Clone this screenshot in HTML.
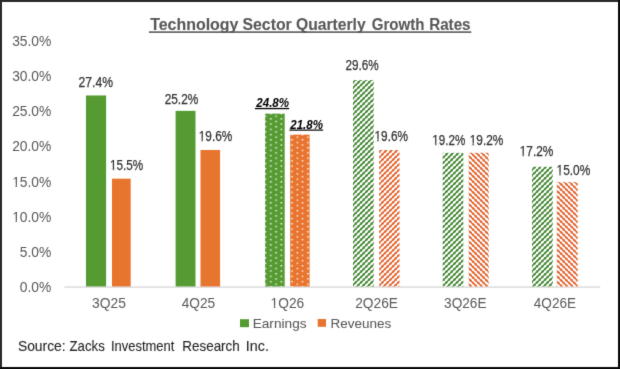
<!DOCTYPE html>
<html><head><meta charset="utf-8"><style>
html,body{margin:0;padding:0;background:#fff;}
#c{position:relative;width:620px;height:369px;overflow:hidden;background:#fff;}
svg{position:absolute;left:0;top:0;}
text{font-family:"Liberation Sans",sans-serif;}
</style></head><body><div id="c">
<svg width="620" height="369" viewBox="0 0 620 369">
<defs>
<filter id="bl" x="0" y="0" width="620" height="369" filterUnits="userSpaceOnUse"><feConvolveMatrix order="3" kernelMatrix="0.0100 0.0800 0.0100 0.0800 0.6400 0.0800 0.0100 0.0800 0.0100" edgeMode="duplicate"/></filter>
<pattern id="dotG" patternUnits="userSpaceOnUse" width="10.6" height="5.25" x="-0.2" y="0">
<rect width="10.6" height="5.25" fill="#559b30"/>
<rect x="0" y="0" width="1.4" height="1.4" fill="#f6fcf2"/>
<rect x="5.3" y="2.625" width="1.4" height="1.4" fill="#f6fcf2"/>
</pattern>
<pattern id="dotO" patternUnits="userSpaceOnUse" width="10.6" height="5.25" x="-0.2" y="0">
<rect width="10.6" height="5.25" fill="#e8752f"/>
<rect x="0" y="0" width="1.4" height="1.4" fill="#fff6ea"/>
<rect x="5.3" y="2.625" width="1.4" height="1.4" fill="#fff6ea"/>
</pattern>
<pattern id="hatG" patternUnits="userSpaceOnUse" width="16" height="16" x="0" y="0">
<rect width="16" height="16" fill="#fff"/>
<path d="M10 0h1v1h-1zM3 1h1v1h-1zM7 3h1v1h-1zM8 3h1v1h-1zM9 6h1v1h-1zM10 6h1v1h-1zM13 7h1v1h-1zM2 8h1v1h-1zM11 9h1v1h-1zM0 11h1v1h-1zM15 11h1v1h-1zM1 14h1v1h-1zM2 14h1v1h-1zM5 15h1v1h-1z" fill="#ecf4e9"/>
<path d="M1 0h1v1h-1zM10 1h1v1h-1zM3 3h1v1h-1zM10 5h1v1h-1zM12 5h1v1h-1zM5 6h1v1h-1zM15 7h1v1h-1zM9 8h1v1h-1zM2 9h1v1h-1zM11 11h1v1h-1zM2 13h1v1h-1zM4 13h1v1h-1zM13 14h1v1h-1zM7 15h1v1h-1z" fill="#d9e8d3"/>
<path d="M15 0h1v1h-1zM8 1h1v1h-1zM12 3h1v1h-1zM14 6h1v1h-1zM7 8h1v1h-1zM0 9h1v1h-1zM4 11h1v1h-1zM6 14h1v1h-1z" fill="#c5dcbe"/>
<path d="M2 2h1v1h-1zM15 2h1v1h-1zM14 3h1v1h-1zM2 4h1v1h-1zM5 4h1v1h-1zM7 10h1v1h-1zM10 10h1v1h-1zM6 11h1v1h-1zM10 12h1v1h-1zM13 12h1v1h-1z" fill="#b2d1a8"/>
<path d="M12 0h1v1h-1zM5 1h1v1h-1zM1 3h1v1h-1zM0 6h1v1h-1zM3 6h1v1h-1zM4 8h1v1h-1zM13 9h1v1h-1zM9 11h1v1h-1zM8 14h1v1h-1zM11 14h1v1h-1z" fill="#9fc692"/>
<path d="M7 5h1v1h-1zM15 5h1v1h-1zM2 7h1v1h-1zM10 7h1v1h-1zM7 13h1v1h-1zM15 13h1v1h-1zM2 15h1v1h-1zM10 15h1v1h-1z" fill="#8cba7c"/>
<path d="M4 0h1v1h-1zM13 1h1v1h-1zM9 3h1v1h-1zM8 6h1v1h-1zM11 6h1v1h-1zM12 8h1v1h-1zM5 9h1v1h-1zM1 11h1v1h-1zM0 14h1v1h-1zM3 14h1v1h-1z" fill="#79ae66"/>
<path d="M7 2h1v1h-1zM10 2h1v1h-1zM6 3h1v1h-1zM10 4h1v1h-1zM13 4h1v1h-1zM2 10h1v1h-1zM15 10h1v1h-1zM14 11h1v1h-1zM2 12h1v1h-1zM5 12h1v1h-1z" fill="#65a351"/>
<path d="M7 0h1v1h-1zM0 1h1v1h-1zM4 3h1v1h-1zM6 6h1v1h-1zM15 8h1v1h-1zM8 9h1v1h-1zM12 11h1v1h-1zM14 14h1v1h-1z" fill="#52983b"/>
<path d="M2 0h1v1h-1zM3 0h1v1h-1zM8 0h1v1h-1zM9 0h1v1h-1zM13 0h1v1h-1zM14 0h1v1h-1zM1 1h1v1h-1zM2 1h1v1h-1zM6 1h1v1h-1zM7 1h1v1h-1zM11 1h1v1h-1zM12 1h1v1h-1zM0 2h1v1h-1zM1 2h1v1h-1zM5 2h1v1h-1zM6 2h1v1h-1zM11 2h1v1h-1zM12 2h1v1h-1zM0 3h1v1h-1zM5 3h1v1h-1zM10 3h1v1h-1zM11 3h1v1h-1zM15 3h1v1h-1zM3 4h1v1h-1zM4 4h1v1h-1zM8 4h1v1h-1zM9 4h1v1h-1zM14 4h1v1h-1zM15 4h1v1h-1zM2 5h1v1h-1zM3 5h1v1h-1zM4 5h1v1h-1zM8 5h1v1h-1zM9 5h1v1h-1zM13 5h1v1h-1zM14 5h1v1h-1zM1 6h1v1h-1zM2 6h1v1h-1zM7 6h1v1h-1zM12 6h1v1h-1zM13 6h1v1h-1zM0 7h1v1h-1zM1 7h1v1h-1zM5 7h1v1h-1zM6 7h1v1h-1zM7 7h1v1h-1zM11 7h1v1h-1zM12 7h1v1h-1zM0 8h1v1h-1zM1 8h1v1h-1zM5 8h1v1h-1zM6 8h1v1h-1zM10 8h1v1h-1zM11 8h1v1h-1zM3 9h1v1h-1zM4 9h1v1h-1zM9 9h1v1h-1zM10 9h1v1h-1zM14 9h1v1h-1zM15 9h1v1h-1zM3 10h1v1h-1zM4 10h1v1h-1zM8 10h1v1h-1zM9 10h1v1h-1zM13 10h1v1h-1zM14 10h1v1h-1zM2 11h1v1h-1zM3 11h1v1h-1zM7 11h1v1h-1zM8 11h1v1h-1zM13 11h1v1h-1zM0 12h1v1h-1zM1 12h1v1h-1zM6 12h1v1h-1zM7 12h1v1h-1zM11 12h1v1h-1zM12 12h1v1h-1zM0 13h1v1h-1zM1 13h1v1h-1zM5 13h1v1h-1zM6 13h1v1h-1zM10 13h1v1h-1zM11 13h1v1h-1zM12 13h1v1h-1zM4 14h1v1h-1zM5 14h1v1h-1zM9 14h1v1h-1zM10 14h1v1h-1zM15 14h1v1h-1zM3 15h1v1h-1zM4 15h1v1h-1zM8 15h1v1h-1zM9 15h1v1h-1zM13 15h1v1h-1zM14 15h1v1h-1zM15 15h1v1h-1z" fill="#3f8c25"/>
</pattern>
<pattern id="hatOu" patternUnits="userSpaceOnUse" width="16" height="16" x="0" y="0">
<rect width="16" height="16" fill="#fff"/>
<path d="M10 0h1v1h-1zM3 1h1v1h-1zM7 3h1v1h-1zM8 3h1v1h-1zM9 6h1v1h-1zM10 6h1v1h-1zM13 7h1v1h-1zM2 8h1v1h-1zM11 9h1v1h-1zM0 11h1v1h-1zM15 11h1v1h-1zM1 14h1v1h-1zM2 14h1v1h-1zM5 15h1v1h-1z" fill="#fcf0e8"/>
<path d="M1 0h1v1h-1zM10 1h1v1h-1zM3 3h1v1h-1zM10 5h1v1h-1zM12 5h1v1h-1zM5 6h1v1h-1zM15 7h1v1h-1zM9 8h1v1h-1zM2 9h1v1h-1zM11 11h1v1h-1zM2 13h1v1h-1zM4 13h1v1h-1zM13 14h1v1h-1zM7 15h1v1h-1z" fill="#f9e0d2"/>
<path d="M15 0h1v1h-1zM8 1h1v1h-1zM12 3h1v1h-1zM14 6h1v1h-1zM7 8h1v1h-1zM0 9h1v1h-1zM4 11h1v1h-1zM6 14h1v1h-1z" fill="#f7d1bc"/>
<path d="M2 2h1v1h-1zM15 2h1v1h-1zM14 3h1v1h-1zM2 4h1v1h-1zM5 4h1v1h-1zM7 10h1v1h-1zM10 10h1v1h-1zM6 11h1v1h-1zM10 12h1v1h-1zM13 12h1v1h-1z" fill="#f4c2a5"/>
<path d="M12 0h1v1h-1zM5 1h1v1h-1zM1 3h1v1h-1zM0 6h1v1h-1zM3 6h1v1h-1zM4 8h1v1h-1zM13 9h1v1h-1zM9 11h1v1h-1zM8 14h1v1h-1zM11 14h1v1h-1z" fill="#f1b28e"/>
<path d="M7 5h1v1h-1zM15 5h1v1h-1zM2 7h1v1h-1zM10 7h1v1h-1zM7 13h1v1h-1zM15 13h1v1h-1zM2 15h1v1h-1zM10 15h1v1h-1z" fill="#eea378"/>
<path d="M4 0h1v1h-1zM13 1h1v1h-1zM9 3h1v1h-1zM8 6h1v1h-1zM11 6h1v1h-1zM12 8h1v1h-1zM5 9h1v1h-1zM1 11h1v1h-1zM0 14h1v1h-1zM3 14h1v1h-1z" fill="#eb9462"/>
<path d="M7 2h1v1h-1zM10 2h1v1h-1zM6 3h1v1h-1zM10 4h1v1h-1zM13 4h1v1h-1zM2 10h1v1h-1zM15 10h1v1h-1zM14 11h1v1h-1zM2 12h1v1h-1zM5 12h1v1h-1z" fill="#e9854b"/>
<path d="M7 0h1v1h-1zM0 1h1v1h-1zM4 3h1v1h-1zM6 6h1v1h-1zM15 8h1v1h-1zM8 9h1v1h-1zM12 11h1v1h-1zM14 14h1v1h-1z" fill="#e67534"/>
<path d="M2 0h1v1h-1zM3 0h1v1h-1zM8 0h1v1h-1zM9 0h1v1h-1zM13 0h1v1h-1zM14 0h1v1h-1zM1 1h1v1h-1zM2 1h1v1h-1zM6 1h1v1h-1zM7 1h1v1h-1zM11 1h1v1h-1zM12 1h1v1h-1zM0 2h1v1h-1zM1 2h1v1h-1zM5 2h1v1h-1zM6 2h1v1h-1zM11 2h1v1h-1zM12 2h1v1h-1zM0 3h1v1h-1zM5 3h1v1h-1zM10 3h1v1h-1zM11 3h1v1h-1zM15 3h1v1h-1zM3 4h1v1h-1zM4 4h1v1h-1zM8 4h1v1h-1zM9 4h1v1h-1zM14 4h1v1h-1zM15 4h1v1h-1zM2 5h1v1h-1zM3 5h1v1h-1zM4 5h1v1h-1zM8 5h1v1h-1zM9 5h1v1h-1zM13 5h1v1h-1zM14 5h1v1h-1zM1 6h1v1h-1zM2 6h1v1h-1zM7 6h1v1h-1zM12 6h1v1h-1zM13 6h1v1h-1zM0 7h1v1h-1zM1 7h1v1h-1zM5 7h1v1h-1zM6 7h1v1h-1zM7 7h1v1h-1zM11 7h1v1h-1zM12 7h1v1h-1zM0 8h1v1h-1zM1 8h1v1h-1zM5 8h1v1h-1zM6 8h1v1h-1zM10 8h1v1h-1zM11 8h1v1h-1zM3 9h1v1h-1zM4 9h1v1h-1zM9 9h1v1h-1zM10 9h1v1h-1zM14 9h1v1h-1zM15 9h1v1h-1zM3 10h1v1h-1zM4 10h1v1h-1zM8 10h1v1h-1zM9 10h1v1h-1zM13 10h1v1h-1zM14 10h1v1h-1zM2 11h1v1h-1zM3 11h1v1h-1zM7 11h1v1h-1zM8 11h1v1h-1zM13 11h1v1h-1zM0 12h1v1h-1zM1 12h1v1h-1zM6 12h1v1h-1zM7 12h1v1h-1zM11 12h1v1h-1zM12 12h1v1h-1zM0 13h1v1h-1zM1 13h1v1h-1zM5 13h1v1h-1zM6 13h1v1h-1zM10 13h1v1h-1zM11 13h1v1h-1zM12 13h1v1h-1zM4 14h1v1h-1zM5 14h1v1h-1zM9 14h1v1h-1zM10 14h1v1h-1zM15 14h1v1h-1zM3 15h1v1h-1zM4 15h1v1h-1zM8 15h1v1h-1zM9 15h1v1h-1zM13 15h1v1h-1zM14 15h1v1h-1zM15 15h1v1h-1z" fill="#e3661e"/>
</pattern>
<pattern id="hatOd" patternUnits="userSpaceOnUse" width="16" height="16" x="0" y="0">
<rect width="16" height="16" fill="#fff"/>
<path d="M5 0h1v1h-1zM1 1h1v1h-1zM2 1h1v1h-1zM0 4h1v1h-1zM15 4h1v1h-1zM11 6h1v1h-1zM2 7h1v1h-1zM13 8h1v1h-1zM9 9h1v1h-1zM10 9h1v1h-1zM7 12h1v1h-1zM8 12h1v1h-1zM3 14h1v1h-1zM10 15h1v1h-1z" fill="#fcf0e8"/>
<path d="M7 0h1v1h-1zM13 1h1v1h-1zM2 2h1v1h-1zM4 2h1v1h-1zM11 4h1v1h-1zM2 6h1v1h-1zM9 7h1v1h-1zM15 8h1v1h-1zM5 9h1v1h-1zM10 10h1v1h-1zM12 10h1v1h-1zM3 12h1v1h-1zM10 14h1v1h-1zM1 15h1v1h-1z" fill="#f9e0d2"/>
<path d="M6 1h1v1h-1zM4 4h1v1h-1zM0 6h1v1h-1zM7 7h1v1h-1zM14 9h1v1h-1zM12 12h1v1h-1zM8 14h1v1h-1zM15 15h1v1h-1z" fill="#f7d1bc"/>
<path d="M10 3h1v1h-1zM13 3h1v1h-1zM6 4h1v1h-1zM7 5h1v1h-1zM10 5h1v1h-1zM2 11h1v1h-1zM5 11h1v1h-1zM14 12h1v1h-1zM2 13h1v1h-1zM15 13h1v1h-1z" fill="#f4c2a5"/>
<path d="M8 1h1v1h-1zM11 1h1v1h-1zM9 4h1v1h-1zM13 6h1v1h-1zM4 7h1v1h-1zM0 9h1v1h-1zM3 9h1v1h-1zM1 12h1v1h-1zM5 14h1v1h-1zM12 15h1v1h-1z" fill="#f1b28e"/>
<path d="M2 0h1v1h-1zM10 0h1v1h-1zM7 2h1v1h-1zM15 2h1v1h-1zM2 8h1v1h-1zM10 8h1v1h-1zM7 10h1v1h-1zM15 10h1v1h-1z" fill="#eea378"/>
<path d="M0 1h1v1h-1zM3 1h1v1h-1zM1 4h1v1h-1zM5 6h1v1h-1zM12 7h1v1h-1zM8 9h1v1h-1zM11 9h1v1h-1zM9 12h1v1h-1zM13 14h1v1h-1zM4 15h1v1h-1z" fill="#eb9462"/>
<path d="M2 3h1v1h-1zM5 3h1v1h-1zM14 4h1v1h-1zM2 5h1v1h-1zM15 5h1v1h-1zM10 11h1v1h-1zM13 11h1v1h-1zM6 12h1v1h-1zM7 13h1v1h-1zM10 13h1v1h-1z" fill="#e9854b"/>
<path d="M14 1h1v1h-1zM12 4h1v1h-1zM8 6h1v1h-1zM15 7h1v1h-1zM6 9h1v1h-1zM4 12h1v1h-1zM0 14h1v1h-1zM7 15h1v1h-1z" fill="#e67534"/>
<path d="M3 0h1v1h-1zM4 0h1v1h-1zM8 0h1v1h-1zM9 0h1v1h-1zM13 0h1v1h-1zM14 0h1v1h-1zM15 0h1v1h-1zM4 1h1v1h-1zM5 1h1v1h-1zM9 1h1v1h-1zM10 1h1v1h-1zM15 1h1v1h-1zM0 2h1v1h-1zM1 2h1v1h-1zM5 2h1v1h-1zM6 2h1v1h-1zM10 2h1v1h-1zM11 2h1v1h-1zM12 2h1v1h-1zM0 3h1v1h-1zM1 3h1v1h-1zM6 3h1v1h-1zM7 3h1v1h-1zM11 3h1v1h-1zM12 3h1v1h-1zM2 4h1v1h-1zM3 4h1v1h-1zM7 4h1v1h-1zM8 4h1v1h-1zM13 4h1v1h-1zM3 5h1v1h-1zM4 5h1v1h-1zM8 5h1v1h-1zM9 5h1v1h-1zM13 5h1v1h-1zM14 5h1v1h-1zM3 6h1v1h-1zM4 6h1v1h-1zM9 6h1v1h-1zM10 6h1v1h-1zM14 6h1v1h-1zM15 6h1v1h-1zM0 7h1v1h-1zM1 7h1v1h-1zM5 7h1v1h-1zM6 7h1v1h-1zM10 7h1v1h-1zM11 7h1v1h-1zM0 8h1v1h-1zM1 8h1v1h-1zM5 8h1v1h-1zM6 8h1v1h-1zM7 8h1v1h-1zM11 8h1v1h-1zM12 8h1v1h-1zM1 9h1v1h-1zM2 9h1v1h-1zM7 9h1v1h-1zM12 9h1v1h-1zM13 9h1v1h-1zM2 10h1v1h-1zM3 10h1v1h-1zM4 10h1v1h-1zM8 10h1v1h-1zM9 10h1v1h-1zM13 10h1v1h-1zM14 10h1v1h-1zM3 11h1v1h-1zM4 11h1v1h-1zM8 11h1v1h-1zM9 11h1v1h-1zM14 11h1v1h-1zM15 11h1v1h-1zM0 12h1v1h-1zM5 12h1v1h-1zM10 12h1v1h-1zM11 12h1v1h-1zM15 12h1v1h-1zM0 13h1v1h-1zM1 13h1v1h-1zM5 13h1v1h-1zM6 13h1v1h-1zM11 13h1v1h-1zM12 13h1v1h-1zM1 14h1v1h-1zM2 14h1v1h-1zM6 14h1v1h-1zM7 14h1v1h-1zM11 14h1v1h-1zM12 14h1v1h-1zM2 15h1v1h-1zM3 15h1v1h-1zM8 15h1v1h-1zM9 15h1v1h-1zM13 15h1v1h-1zM14 15h1v1h-1z" fill="#e3661e"/>
</pattern>
</defs>

<g filter="url(#bl)">
<rect x="0" y="0" width="620" height="2" fill="#2a2a2a"/>
<rect x="0" y="0" width="2" height="369" fill="#2a2a2a"/>
<rect x="618" y="0" width="2" height="369" fill="#0c0c0c"/>
<rect x="0" y="367" width="620" height="2" fill="#0c0c0c"/>
<rect x="149" y="31.3" width="322.3" height="1.6" fill="#595959"/>
<text x="51.3" y="291.96" font-size="13.8" fill="#595959" text-anchor="end">0.0%</text>
<text x="51.3" y="256.81" font-size="13.8" fill="#595959" text-anchor="end">5.0%</text>
<text x="51.3" y="221.66" font-size="13.8" fill="#595959" text-anchor="end">10.0%</text>
<text x="51.3" y="186.51" font-size="13.8" fill="#595959" text-anchor="end">15.0%</text>
<text x="51.3" y="151.36" font-size="13.8" fill="#595959" text-anchor="end">20.0%</text>
<text x="51.3" y="116.21" font-size="13.8" fill="#595959" text-anchor="end">25.0%</text>
<text x="51.3" y="81.06" font-size="13.8" fill="#595959" text-anchor="end">30.0%</text>
<text x="51.3" y="45.91" font-size="13.8" fill="#595959" text-anchor="end">35.0%</text>
<rect x="64.3" y="286.4" width="536" height="1.4" fill="#d9d9d9"/>
<rect x="85.97" y="95.47" width="20.13" height="191.03" fill="#559b30"/>
<rect x="112.00" y="178.66" width="18.70" height="107.84" fill="#e8752f"/>
<rect x="175.60" y="110.85" width="19.90" height="175.65" fill="#559b30"/>
<rect x="200.50" y="150.00" width="19.60" height="136.50" fill="#e8752f"/>
<rect x="265.10" y="113.65" width="19.60" height="172.85" fill="url(#dotG)"/>
<rect x="290.20" y="134.62" width="19.40" height="151.88" fill="url(#dotO)"/>
<rect x="353.00" y="80.10" width="20.70" height="206.40" fill="url(#hatG)"/>
<rect x="379.20" y="150.00" width="20.30" height="136.50" fill="url(#hatOu)"/>
<rect x="442.70" y="152.79" width="20.60" height="133.71" fill="url(#hatG)"/>
<rect x="468.70" y="152.79" width="19.90" height="133.71" fill="url(#hatOd)"/>
<rect x="532.00" y="166.77" width="20.70" height="119.73" fill="url(#hatG)"/>
<rect x="556.80" y="182.15" width="20.80" height="104.35" fill="url(#hatOd)"/>
<text x="150.15" y="30.00" font-size="16.0" fill="#595959" font-weight="bold" stroke="#595959" stroke-width="0.1" textLength="88.30" lengthAdjust="spacingAndGlyphs">Technology</text>
<text x="242.50" y="30.00" font-size="16.0" fill="#595959" font-weight="bold" stroke="#595959" stroke-width="0.1" textLength="49.27" lengthAdjust="spacingAndGlyphs">Sector</text>
<text x="295.96" y="30.00" font-size="16.0" fill="#595959" font-weight="bold" stroke="#595959" stroke-width="0.1" textLength="69.69" lengthAdjust="spacingAndGlyphs">Quarterly</text>
<text x="371.68" y="30.00" font-size="16.0" fill="#595959" font-weight="bold" stroke="#595959" stroke-width="0.1" textLength="52.70" lengthAdjust="spacingAndGlyphs">Growth</text>
<text x="429.20" y="30.00" font-size="16.0" fill="#595959" font-weight="bold" stroke="#595959" stroke-width="0.1" textLength="41.36" lengthAdjust="spacingAndGlyphs">Rates</text>
<text x="78.58" y="86.70" font-size="13.8" fill="#333333" stroke="#333333" stroke-width="0.25" textLength="34.33" lengthAdjust="spacingAndGlyphs">27.4%</text>
<text x="110.02" y="170.30" font-size="13.8" fill="#333333" stroke="#333333" stroke-width="0.25" textLength="33.28" lengthAdjust="spacingAndGlyphs">15.5%</text>
<text x="164.69" y="103.70" font-size="13.8" fill="#333333" stroke="#333333" stroke-width="0.25" textLength="33.61" lengthAdjust="spacingAndGlyphs">25.2%</text>
<text x="198.71" y="141.00" font-size="13.8" fill="#333333" stroke="#333333" stroke-width="0.25" textLength="33.59" lengthAdjust="spacingAndGlyphs">19.6%</text>
<text x="256.33" y="106.60" font-size="13.0" fill="#000" font-weight="bold" font-style="italic" stroke="#000" stroke-width="0.05" textLength="32.68" lengthAdjust="spacingAndGlyphs">24.8%</text>
<text x="290.23" y="129.20" font-size="13.0" fill="#000" font-weight="bold" font-style="italic" stroke="#000" stroke-width="0.05" textLength="32.68" lengthAdjust="spacingAndGlyphs">21.8%</text>
<text x="345.50" y="70.10" font-size="13.8" fill="#333333" stroke="#333333" stroke-width="0.25" textLength="33.20" lengthAdjust="spacingAndGlyphs">29.6%</text>
<text x="374.51" y="140.70" font-size="13.8" fill="#333333" stroke="#333333" stroke-width="0.25" textLength="33.49" lengthAdjust="spacingAndGlyphs">19.6%</text>
<text x="432.33" y="145.10" font-size="13.8" fill="#333333" stroke="#333333" stroke-width="0.25" textLength="32.87" lengthAdjust="spacingAndGlyphs">19.2%</text>
<text x="469.71" y="144.70" font-size="13.8" fill="#333333" stroke="#333333" stroke-width="0.25" textLength="33.59" lengthAdjust="spacingAndGlyphs">19.2%</text>
<text x="519.71" y="156.10" font-size="13.8" fill="#333333" stroke="#333333" stroke-width="0.25" textLength="33.59" lengthAdjust="spacingAndGlyphs">17.2%</text>
<text x="556.50" y="174.80" font-size="13.8" fill="#333333" stroke="#333333" stroke-width="0.25" textLength="33.80" lengthAdjust="spacingAndGlyphs">15.0%</text>
<text x="92.12" y="307.60" font-size="14.0" fill="#595959" stroke="#595959" stroke-width="0" textLength="33.89" lengthAdjust="spacingAndGlyphs">3Q25</text>
<text x="181.74" y="307.60" font-size="14.0" fill="#595959" stroke="#595959" stroke-width="0" textLength="33.47" lengthAdjust="spacingAndGlyphs">4Q25</text>
<text x="270.59" y="307.60" font-size="14.0" fill="#595959" stroke="#595959" stroke-width="0" textLength="33.62" lengthAdjust="spacingAndGlyphs">1Q26</text>
<text x="355.21" y="307.60" font-size="14.0" fill="#595959" stroke="#595959" stroke-width="0" textLength="42.82" lengthAdjust="spacingAndGlyphs">2Q26E</text>
<text x="444.12" y="307.60" font-size="14.0" fill="#595959" stroke="#595959" stroke-width="0" textLength="42.40" lengthAdjust="spacingAndGlyphs">3Q26E</text>
<text x="533.84" y="307.60" font-size="14.0" fill="#595959" stroke="#595959" stroke-width="0" textLength="42.18" lengthAdjust="spacingAndGlyphs">4Q26E</text>
<text x="252.68" y="328.30" font-size="13.4" fill="#595959" stroke="#595959" stroke-width="0.05" textLength="53.89" lengthAdjust="spacingAndGlyphs">Earnings</text>
<text x="330.50" y="328.30" font-size="13.4" fill="#595959" stroke="#595959" stroke-width="0.05" textLength="60.78" lengthAdjust="spacingAndGlyphs">Reveunes</text>
<text x="17.92" y="351.20" font-size="14.3" fill="#262626" stroke="#262626" stroke-width="0.1" textLength="47.79" lengthAdjust="spacingAndGlyphs">Source:</text>
<text x="69.54" y="351.20" font-size="14.3" fill="#262626" stroke="#262626" stroke-width="0.1" textLength="35.23" lengthAdjust="spacingAndGlyphs">Zacks</text>
<text x="110.94" y="351.20" font-size="14.3" fill="#262626" stroke="#262626" stroke-width="0.1" textLength="63.37" lengthAdjust="spacingAndGlyphs">Investment</text>
<text x="182.30" y="351.20" font-size="14.3" fill="#262626" stroke="#262626" stroke-width="0.1" textLength="57.50" lengthAdjust="spacingAndGlyphs">Research</text>
<text x="245.83" y="351.20" font-size="14.3" fill="#262626" stroke="#262626" stroke-width="0.1" textLength="23.12" lengthAdjust="spacingAndGlyphs">Inc.</text>
<rect x="12.18" y="219.94" width="3.26" height="2.62" fill="#fff"/>
<rect x="17.03" y="219.94" width="2.73" height="2.62" fill="#fff"/>
<rect x="12.18" y="184.79" width="3.26" height="2.62" fill="#fff"/>
<rect x="17.03" y="184.79" width="2.73" height="2.62" fill="#fff"/>
<rect x="110.02" y="168.58" width="2.77" height="2.62" fill="#fff"/>
<rect x="114.15" y="168.58" width="2.32" height="2.62" fill="#fff"/>
<rect x="198.71" y="139.28" width="2.80" height="2.62" fill="#fff"/>
<rect x="202.88" y="139.28" width="2.35" height="2.62" fill="#fff"/>
<rect x="374.51" y="138.98" width="2.79" height="2.62" fill="#fff"/>
<rect x="378.67" y="138.98" width="2.34" height="2.62" fill="#fff"/>
<rect x="432.33" y="143.38" width="2.74" height="2.62" fill="#fff"/>
<rect x="436.41" y="143.38" width="2.30" height="2.62" fill="#fff"/>
<rect x="469.71" y="142.98" width="2.80" height="2.62" fill="#fff"/>
<rect x="473.88" y="142.98" width="2.35" height="2.62" fill="#fff"/>
<rect x="519.71" y="154.38" width="2.80" height="2.62" fill="#fff"/>
<rect x="523.88" y="154.38" width="2.35" height="2.62" fill="#fff"/>
<rect x="556.50" y="173.08" width="2.81" height="2.62" fill="#fff"/>
<rect x="560.70" y="173.08" width="2.36" height="2.62" fill="#fff"/>
<rect x="270.59" y="305.85" width="3.24" height="2.66" fill="#fff"/>
<rect x="275.43" y="305.85" width="2.72" height="2.66" fill="#fff"/>
<rect x="254.9" y="107.9" width="34.3" height="1.3" fill="#000"/>
<rect x="289.4" y="129.5" width="33.7" height="1.2" fill="#000"/>
<rect x="240" y="319.2" width="9" height="8" fill="#559b30"/>
<rect x="317.7" y="319" width="8.3" height="7.8" fill="#e8752f"/>
</g>
</svg></div></body></html>
